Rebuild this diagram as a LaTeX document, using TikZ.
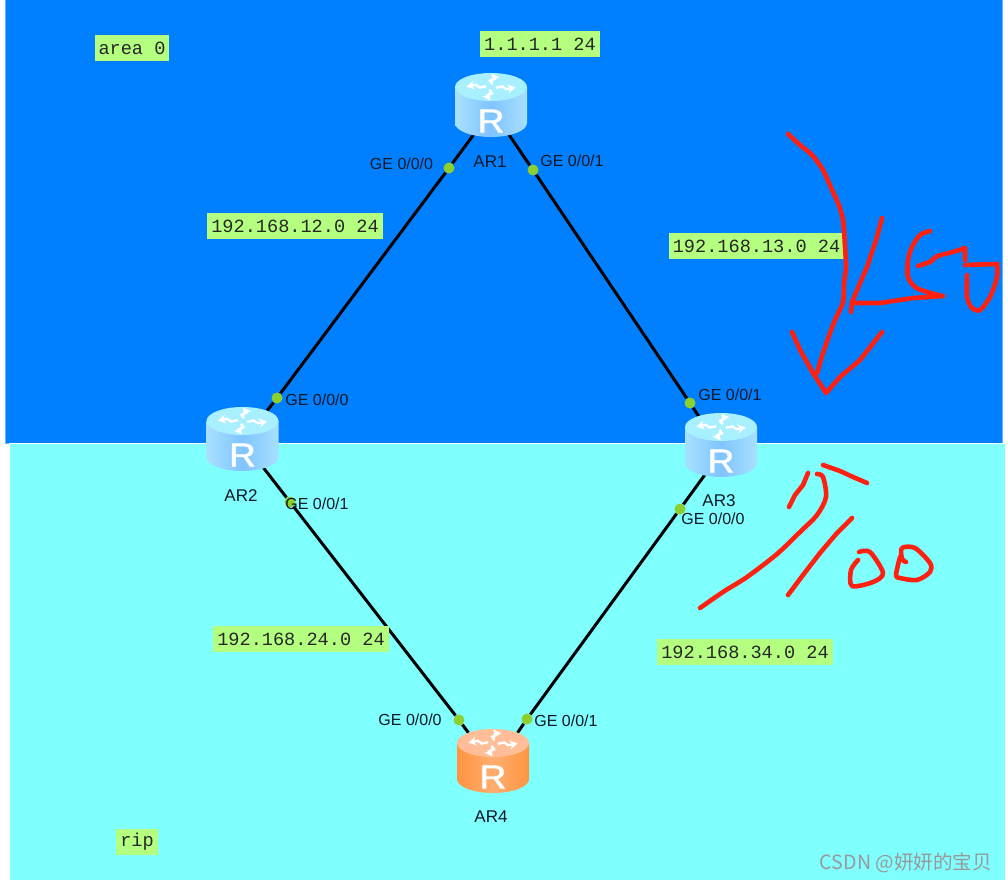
\documentclass[tikz,border=0pt]{standalone}
\usepackage{fontspec}
\setmainfont{Liberation Sans}
\setmonofont{Liberation Mono}
\newfontfamily\cjk{Noto Sans CJK SC}
\usepackage{tikz}
\usetikzlibrary{positioning}
\usetikzlibrary{arrows.meta}
\usetikzlibrary{backgrounds}
\definecolor{areablue}{HTML}{0080FF}
\definecolor{ripcyan}{HTML}{80FFFF}
\definecolor{notegreen}{HTML}{B4FF80}
\definecolor{portgreen}{HTML}{8CD030}
\definecolor{inkred}{HTML}{FF2010}
\definecolor{labelink}{HTML}{101828}
\definecolor{blueside}{HTML}{A8E0FF}
\definecolor{bluemid}{HTML}{80C4FF}
\definecolor{bluetop}{HTML}{A8F0FF}
\definecolor{orangeside}{HTML}{FF9440}
\definecolor{orangemid}{HTML}{FFAE70}
\definecolor{orangetop}{HTML}{FFBE98}
\begin{document}
\begin{tikzpicture}[x=1pt, y=-1pt,
    routerbox/.style = {minimum width=72pt, minimum height=56pt, inner sep=0pt},
    note/.style = {fill=notegreen, minimum height=26pt, inner sep=4pt, text=black!85, font=\ttfamily\fontsize{18.6}{20}\selectfont},
    port/.style = {circle, fill=portgreen, minimum size=11pt, inner sep=0pt},
    portname/.style = {inner sep=0pt, text=labelink, font=\fontsize{16}{18}\selectfont},
    routername/.style = {inner sep=0pt, text=labelink, font=\fontsize{17}{18}\selectfont},
    link/.style = {draw=black, line width=3pt},
    scribble/.style = {draw=inkred, line width=4.6pt, line join=round, line cap=round},
    pics/router/.style n args = {3}{code = {
        \path[left color=#1, right color=#1, middle color=#2]
            (-36,-18) -- (-36,18) arc[start angle=180, end angle=0, x radius=36, y radius=14] -- (36,-18) -- cycle;
        \fill[#3] (0,-18) ellipse [x radius=36, y radius=14];
        \foreach \a in {0,90,180,270}
            \draw[white, line width=2.4pt, -{Stealth[length=8pt,width=9pt]}, shift={(0,-18)}, yscale=0.55, rotate=\a+20]
                (4,3) -- (11,3) -- (13,9) -- (23,9);
        \node[text=white, inner sep=0pt, xscale=1.12, font=\addfontfeature{FakeBold=1.2}\fontsize{33}{33}\selectfont] (-letter) at (0,16) {R};
    }}]
    \useasboundingbox (0,0) rectangle (1008,882);

    \node[routerbox](AR1) at (491,105){};
    \node[routerbox](AR2) at (242.5,439){};
    \node[routerbox](AR3) at (721,445){};
    \node[routerbox](AR4) at (493,761){};

    \node[port](p1l) at (449,168){};
    \node[port](p1r) at (533,170){};
    \node[port](p2u) at (277,398){};
    \node[port](p2d) at (290,502){};
    \node[port](p3u) at (690,403){};
    \node[port](p3d) at (680,509){};
    \node[port](p4l) at (459,720){};
    \node[port](p4r) at (527,719){};

    \begin{scope}[on background layer]
        % the two areas
        \draw[areablue!60!white, fill=areablue] (5,-3) rectangle (1002,443);
        \draw[white, fill=ripcyan] (9.5,443) rectangle (1005.5,880);
        \draw[link] (AR1.240) -- (p1l) -- (p2u) -- (AR2.49);
        \draw[link] (AR1.301) -- (p1r) -- (p3u) -- (AR3.128);
        \draw[link] (AR2.306) -- (p2d) -- (p4l) -- (AR4.131);
        \draw[link] (AR3.242) -- (p3d) -- (p4r) -- (AR4.49);
    \end{scope}

    \pic (iconA) at (AR1) {router={blueside}{bluemid}{bluetop}};
    \pic (iconB) at (AR2) {router={blueside}{bluemid}{bluetop}};
    \pic (iconC) at (AR3) {router={blueside}{bluemid}{bluetop}};
    \pic (iconD) at (AR4) {router={orangeside}{orangemid}{orangetop}};

    \node[routername](AR1t)[below=22pt of AR1, xshift=-1pt]{AR1};
    \node[routername](AR2t)[below=22pt of AR2, xshift=-1.5pt]{AR2};
    \node[routername](AR3t)[below=21pt of AR3, xshift=-2pt]{AR3};
    \node[routername](AR4t)[below=21pt of AR4, xshift=-2pt]{AR4};

    \node[portname](n1l)[left=10pt of p1l, yshift=4pt]{GE 0/0/0};
    \node[portname](n1r)[right=1.5pt of p1r, yshift=9pt]{GE 0/0/1};
    \node[portname](n2u)[right=2.5pt of p2u, yshift=-2pt]{GE 0/0/0};
    \node[portname](n2d)[right=-10.5pt of p2d, yshift=-2pt]{GE 0/0/1};
    \node[portname](n3u)[right=2.5pt of p3u, yshift=8pt]{GE 0/0/1};
    \node[portname](n3d)[right=-4.5pt of p3d, yshift=-10pt]{GE 0/0/0};
    \node[portname](n4l)[left=11.5pt of p4l]{GE 0/0/0};
    \node[portname](n4r)[right=1.5pt of p4r, yshift=-2pt]{GE 0/0/1};

    \node[note](areanote) at (132,48){area 0};
    \node[note](ripnote) at (137,842){rip};
    \node[note](lo) at (540,44){1.1.1.1 24};
    \node[note](net12) at (295,226){192.168.12.0 24};
    \node[note](net13) at (756.5,246){192.168.13.0 24};
    \node[note](net24) at (301,639){192.168.24.0 24};
    \node[note](net34) at (745,652){192.168.34.0 24};

    % red handwriting
    \draw[scribble] plot[smooth] coordinates {(788,134) (800,145) (812,155) (823,170) (832,190) (838,203) (843,220) (845,247) (846,267) (844,283) (843,302) (835,320) (830,333) (823,353) (817,373)};
    \draw[scribble] (792,332) -- (800,350) -- (813,373) -- (826,393) -- (840,377) -- (860,360) -- (882,332);
    \draw[scribble] (882,218) -- (877,237) -- (867,267) -- (860,283) -- (852,302) -- (851,312);
    \draw[scribble] (852,303) -- (880,303) -- (913,298) -- (943,296);
    \draw[scribble] plot[smooth] coordinates {(930,231) (920,235) (912,247) (908,260) (908,277) (915,287) (927,292) (942,296)};
    \draw[scribble] (918,266) -- (930,262) -- (937,256) -- (953,252) -- (965,248) -- (965,260);
    \draw[scribble] (965,265) -- (997,264);
    \draw[scribble] plot[smooth] coordinates {(997,264) (997,277) (990,297) (980,310) (972,308) (967,297) (967,275)};
    \draw[scribble] (823,465) -- (840,471) -- (853,477) -- (867,483);
    \draw[scribble] (808,473) -- (803,485) -- (795,495) -- (789,507);
    \draw[scribble] plot[smooth] coordinates {(817,474) (823,477) (826,497) (817,515) (800,532) (777,554) (747,577) (723,592) (700,608)};
    \draw[scribble] (852,518) -- (837,533) -- (820,553) -- (803,575) -- (788,595);
    \draw[scribble] plot[smooth] coordinates {(859,552) (870,552) (883,573) (873,582) (852,586) (851,570) (858,560)};
    \draw[scribble] plot[smooth] coordinates {(906,562) (902,559) (902,548) (915,548) (930,563) (930,572) (917,580) (900,578) (896,575) (900,557)};

    \node[inner sep=0pt, text=black!40, font=\cjk\fontsize{19.6}{20}\selectfont](mark) at (906,863){CSDN @妍妍的宝贝};
\end{tikzpicture}
\end{document}
